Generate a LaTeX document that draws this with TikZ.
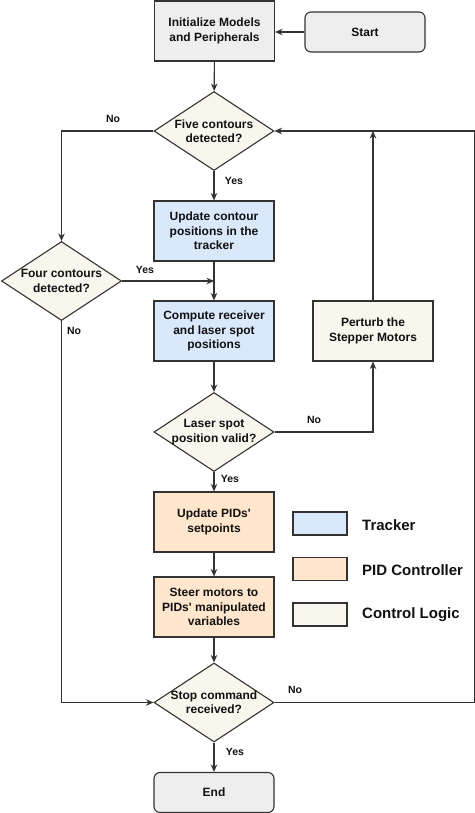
\documentclass[tikz,border=0pt]{standalone}
\usepackage{fontspec}
\setmainfont{Liberation Sans}[Ligatures=TeXOff]
\usetikzlibrary{shapes.geometric,arrows.meta}
\definecolor{grayfill}{HTML}{EEEEEE}
\definecolor{bluefill}{HTML}{DAE8FC}
\definecolor{orangefill}{HTML}{FFE6CC}
\definecolor{logicfill}{HTML}{F9F7ED}
\definecolor{edge}{HTML}{333333}
\definecolor{txt}{HTML}{111111}
\begin{document}
\begin{tikzpicture}[x=1pt,y=-1pt,
  every node/.style={font=\fontsize{12}{14.4}\selectfont\bfseries, text=txt},
  box/.style={draw=edge, line width=1.1pt, minimum width=120pt, minimum height=60pt, align=center, inner sep=0pt},
  term/.style={box, rounded corners=6pt, minimum height=40pt},
  dec/.style={diamond, draw=edge, line width=1.1pt, fill=logicfill, minimum width=120pt, minimum height=79pt, inner sep=0pt},
  dtext/.style={align=center},
  lab/.style={font=\fontsize{10.5}{12}\selectfont\bfseries},
  leg/.style={draw=edge, line width=1.1pt, minimum width=54pt, minimum height=23pt, inner sep=0pt},
  legtext/.style={anchor=west, inner sep=0pt, font=\fontsize{15}{18}\selectfont\bfseries},
  conn/.style={draw=edge, line width=1.1pt, -{Stealth[length=7.5pt,width=6.5pt]}},
  plain/.style={draw=edge, line width=1.1pt}]
\useasboundingbox (0,0) rectangle (474,813);

% nodes
\node[box, fill=grayfill] (init) at (214.5,31) {Initialize Models\\and Peripherals};
\node[term, fill=grayfill] (start) at (365,32) {Start};
\node[dec, label={[dtext]center:Five contours\\detected?}] (five) at (214,131) {};
\node[box, fill=bluefill] (upd) at (214,231) {Update contour\\positions in the\\tracker};
\node[dec, label={[dtext]center:Four contours\\detected?}] (four) at (61.5,281) {};
\node[box, fill=bluefill] (comp) at (214,331) {Compute receiver\\and laser spot\\positions};
\node[box, fill=logicfill] (pert) at (373,331) {Perturb the\\Stepper Motors};
\node[dec, label={[dtext]center:Laser spot\\position valid?}] (laser) at (214,432) {};
\node[box, fill=orangefill] (pid) at (214,522) {Update PIDs'\\setpoints};
\node[box, fill=orangefill] (steer) at (214,607) {Steer motors to\\PIDs' manipulated\\variables};
\node[dec, label={[dtext]center:Stop command\\received?}] (stop) at (214,702.5) {};
\node[term, fill=grayfill] (end) at (214,792.5) {End};

% legend
\node[leg, fill=bluefill] (lt) at (320,523.5) {};
\node[legtext] (ltt) at (362,525) {Tracker};
\node[leg, fill=orangefill] (lp) at (320,569) {};
\node[legtext] (lpt) at (362,570) {PID Controller};
\node[leg, fill=logicfill] (lc) at (320,614.5) {};
\node[legtext] (lct) at (362,615) {Control Logic};

% connectors
\draw[conn] (start.west) -- (start.west -| init.east);
\draw[conn] (init) -- (five);
\draw[conn] (five) -- (upd);
\draw[conn] (five.west) -| (four.north);
\draw[conn] (upd) -- (comp);
\coordinate (j1) at (upd.south |- four.east);
\draw[conn] (four.east) -- (j1);
\draw[conn] (comp) -- (laser);
\draw[conn] (laser.east) -| (pert.south);
\coordinate (j2) at (pert.north |- five.east);
\draw[conn] (pert.north) -- (j2);
\coordinate (r1) at (474.4,702.5);
\coordinate (r2) at (474.4,131);
\draw[conn] (stop.east) -- (r1) -- (r2) -- (five.east);
\draw[conn] (four.south) |- (stop.west);
\draw[conn] (laser) -- (pid);
\draw[conn] (pid) -- (steer);
\draw[conn] (steer) -- (stop);
\draw[conn] (stop) -- (end);

% labels
\node[lab] (l1) at (113,119) {No};
\node[lab] (l2) at (234,181) {Yes};
\node[lab] (l3) at (145,270) {Yes};
\node[lab] (l4) at (74,331) {No};
\node[lab] (l5) at (314,420) {No};
\node[lab] (l6) at (230,479) {Yes};
\node[lab] (l7) at (295,690) {No};
\node[lab] (l8) at (235,752) {Yes};
\end{tikzpicture}
\end{document}
